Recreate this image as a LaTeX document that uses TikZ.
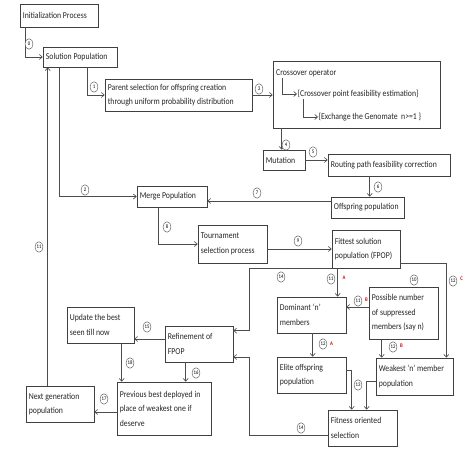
\documentclass[tikz,border=0pt]{standalone}
\usepackage{fontspec}
\setmainfont{Carlito}[FakeStretch=0.86]
\usetikzlibrary{arrows.meta,shapes.geometric,shadows}
\newcommand\mkbox[6]{%
  \node[box, minimum width=#4pt, minimum height=#5pt] (#1) at (#2,#3) {};
  \node[btext, anchor=west] (#1t) at ([xshift=2pt]#1.west) {#6};
}
\begin{document}
\begin{tikzpicture}[x=1pt,y=-1pt,
  box/.style={draw=black!75, line width=0.65pt, fill=white,
    general shadow={fill=black!40, shadow xshift=0.9pt, shadow yshift=-0.9pt},
    inner sep=0pt},
  btext/.style={inner sep=1pt, align=left, font=\fontsize{9}{14.5}\selectfont, text=black!85},
  conn/.style={draw=black!70, line width=0.65pt, -{Straight Barb[length=2.8pt,width=5pt]}},
  lbl/.style={ellipse, draw=black!70, line width=0.4pt, inner sep=0.4pt,
    minimum width=8pt, minimum height=10.5pt, font=\fontsize{5.5}{5.5}\selectfont, fill=white},
  tagred/.style={inner sep=0pt, text=red!85!black, font=\fontsize{5.5}{5.5}\selectfont\bfseries}
]
\useasboundingbox (0,0) rectangle (474,465);
\fill[white] (0,0) rectangle (474,465);

% boxes
\mkbox{init}{59}{15.5}{78}{23}{Initialization Process}
\mkbox{sol}{80}{57}{74}{20}{Solution Population}
\mkbox{parent}{178.5}{95}{147}{32}{Parent selection for offspring creation\\through uniform probability distribution}
\node[box, minimum width=167pt, minimum height=67pt] (cross) at (356.5,94.5) {};
\mkbox{mut}{284}{160}{42}{20}{Mutation}
\mkbox{rout}{389}{165}{122}{22}{Routing path feasibility correction}
\mkbox{off}{367.5}{207.5}{73}{21}{Offspring population}
\mkbox{merge}{172}{196.5}{70}{21}{Merge Population}
\mkbox{tour}{232.5}{244}{69}{38}{Tournament\\selection process}
\mkbox{fpop}{366}{249}{68}{38}{Fittest solution\\population (FPOP)}
\mkbox{dom}{311.5}{315}{69}{36}{Dominant ‘n’\\members}
\mkbox{poss}{403.5}{313}{69}{52}{Possible number\\of suppressed\\members (say n)}
\mkbox{elite}{311.5}{375}{69}{36}{Elite offspring\\population}
\mkbox{weak}{414.5}{376.5}{77}{37}{Weakest ‘n’ member\\population}
\mkbox{fit}{362.5}{428}{69}{36}{Fitness oriented\\selection}
\mkbox{ref}{199}{344}{68}{36}{Refinement of\\FPOP}
\mkbox{upd}{100.5}{325}{67}{36}{Update the best\\seen till now}
\mkbox{prev}{164}{408.5}{94}{53}{Previous best deployed in\\place of weakest one if\\deserve}
\mkbox{next}{60}{404}{68}{36}{Next generation\\population}

% crossover contents
\node[btext, anchor=west] (cop) at (275,73) {Crossover operator};
\node[btext, anchor=west, inner sep=0.5pt] (cpf) at (297,94) {\{Crossover point feasibility estimation\}};
\node[btext, anchor=west, inner sep=0.5pt] (exg) at (318,117) {\{Exchange the Genomate\ \ n>=1 \}};
\draw[conn] ([xshift=7pt]cop.south west) |- (cpf.west);
\draw[conn] ([xshift=6pt]cpf.south west) |- (exg.west);

% connectors
\draw[conn] ([xshift=6pt]init.south west) |- (sol.west);
\draw[conn] ([xshift=45pt]sol.south west) |- (parent.west);
\draw[conn] ([xshift=17pt]sol.south west) |- (merge.west);
\draw[conn] (parent.east) -- (parent.east -| cross.west);
\coordinate (c4) at ([xshift=9pt]cross.south west);
\draw[conn] (c4) -- (c4 |- mut.north);
\draw[conn] (mut.east) -- (mut.east -| rout.west);
\coordinate (c6) at ([xshift=42pt]rout.south west);
\draw[conn] (c6) -- (c6 |- off.north);
\coordinate (c7) at ([yshift=6.5pt]off.west);
\draw[conn] (c7) -- (c7 -| merge.east);
\draw[conn] ([xshift=22pt]merge.south west) |- (tour.west);
\draw[conn] (fpop.west -| tour.east) -- (fpop.west);
\coordinate (c10) at ([yshift=-5pt]ref.north east);
\draw[conn] (fpop.south west) -- ++(-82,0) |- (c10);
\coordinate (c11a) at ([xshift=6pt]fpop.south west);
\draw[conn] (c11a) -- (c11a |- dom.north);
\coordinate (c11b) at ([yshift=6pt]poss.west);
\draw[conn] (c11b) -- (c11b -| dom.east);
\coordinate (c12c) at ([yshift=-14pt]fpop.east);
\coordinate (c12ce) at ([xshift=-7pt]weak.north east);
\draw[conn] (c12c) -| (c12ce);
\coordinate (c12a) at ([xshift=36pt]dom.south west);
\draw[conn] (c12a) -- (c12a |- elite.north);
\coordinate (c12b) at ([xshift=13pt]poss.south west);
\draw[conn] (c12b) -- (c12b |- weak.north);
\coordinate (c13a) at ([yshift=5pt]elite.east);
\draw[conn] (c13a) -| ([xshift=24pt]fit.north west);
\coordinate (c13b) at ([yshift=-4.5pt]weak.west);
\draw[conn] (c13b) -| ([xshift=39pt]fit.north west);
\coordinate (c14) at ([yshift=-7pt]fit.west);
\draw[conn] (c14) -- ++(-78,0) |- ([yshift=-13pt]ref.east);
\coordinate (c15) at ([yshift=5pt]ref.west);
\draw[conn] (c15) -- (c15 -| upd.east);
\coordinate (c16) at ([xshift=21pt]ref.south west);
\draw[conn] (c16) -- (c16 |- prev.north);
\coordinate (c18) at ([xshift=55pt]upd.south west);
\draw[conn] (c18) -- (c18 |- prev.north);
\coordinate (c17) at ([yshift=-3.5pt]prev.west);
\draw[conn] (c17) -- (c17 -| next.east);
\coordinate (cl) at ([xshift=22pt]next.north west);
\draw[conn] (cl) -- (cl |- sol.south);

% step labels
\node[lbl] (l0) at (29,44) {0};
\node[lbl] (l1) at (94,87) {1};
\node[lbl] (l2) at (85,190) {2};
\node[lbl] (l3) at (259,89) {3};
\node[lbl] (l4) at (286,145) {4};
\node[lbl] (l5) at (313,152) {5};
\node[lbl] (l6) at (378,187) {6};
\node[lbl] (l7) at (257,193) {7};
\node[lbl] (l8) at (167,227) {8};
\node[lbl] (l9) at (298,241) {9};
\node[lbl] (l14a) at (281,277) {14};
\node[lbl] (l11a) at (331,279) {11};
\node[tagred] (tA1) at (344,278) {A};
\node[lbl] (l10) at (414,280) {10};
\node[lbl] (l12c) at (453,281) {12};
\node[tagred] (tC) at (461.5,279) {C};
\node[lbl] (l11b) at (358,301) {11};
\node[tagred] (tB1) at (366.5,300) {B};
\node[lbl] (l12a) at (323,344) {12};
\node[tagred] (tA2) at (331.5,344) {A};
\node[lbl] (l12b) at (393,347) {12};
\node[tagred] (tB2) at (401.5,346) {B};
\node[lbl] (l13) at (358,385) {13};
\node[lbl] (l14b) at (301,428) {14};
\node[lbl] (l15) at (147,327) {15};
\node[lbl] (l16) at (196,373) {16};
\node[lbl] (l18) at (130,363) {18};
\node[lbl] (l17) at (104,399) {17};
\node[lbl] (l11) at (39,247) {11};
\end{tikzpicture}
\end{document}
